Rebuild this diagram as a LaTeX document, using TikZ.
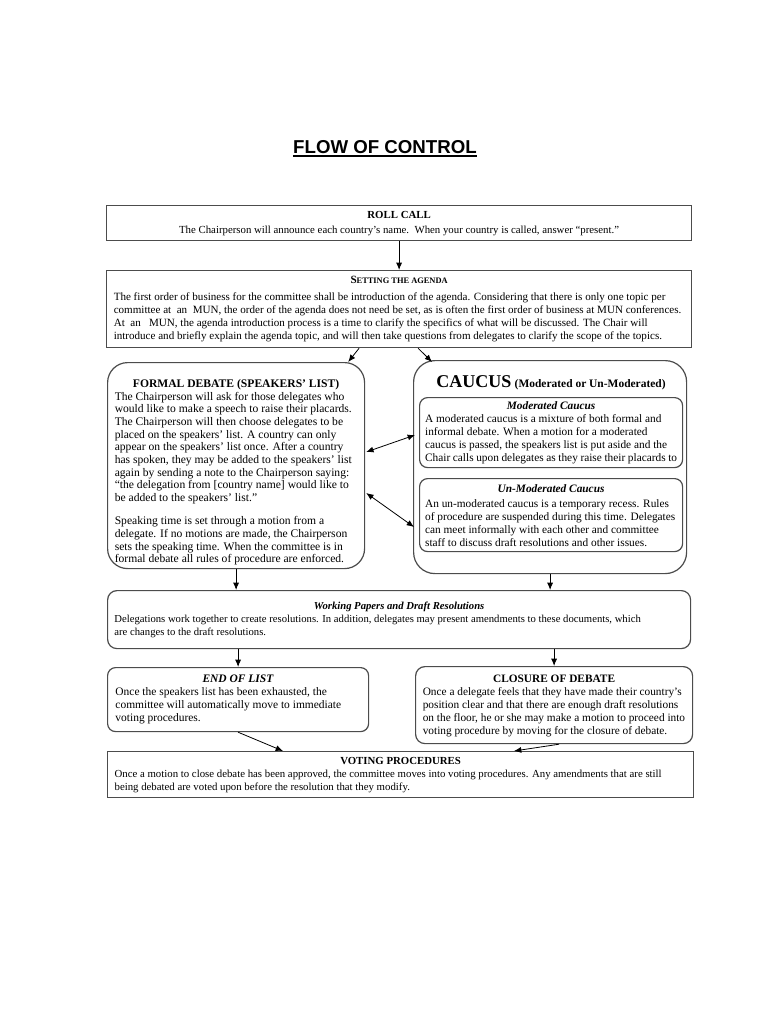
\documentclass[tikz,border=0pt]{standalone}
\usepackage{fontspec}
\setmainfont{Liberation Serif}
\newfontfamily\headfont{Liberation Sans}
\usetikzlibrary{arrows.meta,calc}

\newcommand\boxtext[3]{\parbox{#1}{\centering #2\par\raggedright #3}}

\tikzset{
	box/.style = {draw = black!70, line width = 0.9pt, inner sep = 0pt, anchor = north west, font = \fontsize{8.2}{9.75}\selectfont},
	rbox/.style = {box, rounded corners = #1},
	rbox/.default = 7pt,
	boxsize/.style 2 args = {minimum width = #1*0.75pt, minimum height = #2*0.75pt},
	flow/.style = {-{Latex[length = 5.5pt, width = 4.5pt]}, line width = 0.6pt},
	twoway/.style = {{Latex[length = 5.5pt, width = 4.5pt]}-{Latex[length = 5.5pt, width = 4.5pt]}, line width = 0.6pt}
}

\begin{document}
\begin{tikzpicture}[x = 0.75pt, y = -0.75pt]
	\useasboundingbox (0,0) rectangle (768,1024);
	\node [anchor = base, inner sep = 0pt] (title) at (385,153) {\headfont\bfseries\fontsize{14}{16}\selectfont FLOW OF CONTROL};
	\draw [line width = 1.2pt] ([yshift = -2.3pt]title.base west) -- ([yshift = -2.3pt]title.base east);
	\node [box, boxsize = {585}{35}, align = center, font = \fontsize{8.1}{9.75}\selectfont] (rollcall) at (106,205) {\textbf{ROLL CALL}\\[1.5pt]The Chairperson will announce each country’s name.\ \ When your country is called, answer “present.”};
	\node [box, boxsize = {585}{77}, font = \fontsize{8.3}{9.75}\selectfont] (agenda) at (106,270) {\boxtext{428pt}{\textbf{S{\fontsize{6.3}{7}\selectfont ETTING THE AGENDA}}}{\vspace{2.5pt}
	The first order of business for the committee shall be introduction of the agenda. Considering that there is only one topic per\\
	committee at\ \ an\ \ MUN, the order of the agenda does not need be set, as is often the first order of business at MUN conferences.\\
	At\ \ an\ \ \ MUN, the agenda introduction process is a time to clarify the specifics of what will be discussed. The Chair will\\
	introduce and briefly explain the agenda topic, and will then take questions from delegates to clarify the scope of the topics.}};
	\node [rbox = 15pt, boxsize = {257}{206}, font = \fontsize{8.7}{9.5}\selectfont] (formal) at (107,362) {\boxtext{182pt}{\vspace*{10pt}\textbf{FORMAL DEBATE (SPEAKERS’ LIST)}}{
	The Chairperson will ask for those delegates who\\
	would like to make a speech to raise their placards.\\
	The Chairperson will then choose delegates to be\\
	placed on the speakers’ list. A country can only\\
	appear on the speakers’ list once. After a country\\
	has spoken, they may be added to the speakers’ list\\
	again by sending a note to the Chairperson saying:\\
	“the delegation from [country name] would like to\\
	be added to the speakers’ list.”\\[8pt]
	Speaking time is set through a motion from a\\
	delegate. If no motions are made, the Chairperson\\
	sets the speaking time. When the committee is in\\
	formal debate all rules of procedure are enforced.}};
	\node [rbox = 16pt, boxsize = {273}{213}] (caucus) at (413,360) {};
	\node [anchor = base] (caucustitle) at (551,387) {\textbf{\fontsize{13.5}{15}\selectfont CAUCUS} \textbf{\fontsize{8.6}{10}\selectfont (Moderated or Un-Moderated)}};
	\node [rbox = 6pt, boxsize = {263}{70}, font = \fontsize{8.5}{9.75}\selectfont] (moderated) at (419,397) {\boxtext{189pt}{\vspace*{1pt}\textbf{\textit{Moderated Caucus}}}{
	A moderated caucus is a mixture of both formal and\\
	informal debate. When a motion for a moderated\\
	caucus is passed, the speakers list is put aside and the\\
	Chair calls upon delegates as they raise their placards to}};
	\node [rbox = 6pt, boxsize = {263}{73}, font = \fontsize{8.5}{9.75}\selectfont] (unmoderated) at (419,478) {\boxtext{189pt}{\vspace*{1pt}\textbf{\textit{Un-Moderated Caucus}}}{\vspace{2pt}
	An un-moderated caucus is a temporary recess. Rules\\
	of procedure are suspended during this time. Delegates\\
	can meet informally with each other and committee\\
	staff to discuss draft resolutions and other issues.}};
	\node [rbox, boxsize = {583}{58}, font = \fontsize{8.0}{9.75}\selectfont] (working) at (107,590) {\boxtext{427pt}{\textbf{\textit{Working Papers and Draft Resolutions}}}{
	Delegations work together to create resolutions. In addition, delegates may present amendments to these documents, which\\
	are changes to the draft resolutions.}};
	\node [rbox = 6pt, boxsize = {261}{64}, font = \fontsize{8.6}{9.75}\selectfont] (eol) at (107,667) {\boxtext{184pt}{\textbf{\textit{END OF LIST}}}{
	Once the speakers list has been exhausted, the\\
	committee will automatically move to immediate\\
	voting procedures.}};
	\node [rbox, boxsize = {277}{77}, font = \fontsize{8.5}{9.75}\selectfont] (closure) at (415,666) {\boxtext{197pt}{\vspace*{2pt}\textbf{CLOSURE OF DEBATE}}{
	Once a delegate feels that they have made their country’s\\
	position clear and that there are enough draft resolutions\\
	on the floor, he or she may make a motion to proceed into\\
	voting procedure by moving for the closure of debate.}};
	\node [box, boxsize = {586}{46}, font = \fontsize{8.1}{9.75}\selectfont] (voting) at (107,751) {\boxtext{429pt}{\textbf{VOTING PROCEDURES}}{
	Once a motion to close debate has been approved, the committee moves into voting procedures. Any amendments that are still\\
	being debated are voted upon before the resolution that they modify.}};
	\draw [flow] (rollcall) -- (agenda);
	\draw [flow] ($(agenda.south)+(-40,0)$) -- ($(formal.north east)+(-17,0)$);
	\draw [flow] ($(agenda.south)+(19,0)$) -- ($(caucus.north west)+(19,2)$);
	\draw [twoway] ($(formal.north east)+(1,90)$) -- ($(caucus.north west)+(2,75)$);
	\draw [twoway] ($(formal.north east)+(1,131)$) -- ($(caucus.north west)+(1,167)$);
	\foreach \a in {formal,caucus}{
	\draw [flow] (\a.south) -- (\a.south |- working.north);
	}
	\foreach \b in {eol,closure}{
	\draw [flow] (working.south -| \b.north) -- (\b.north);
	}
	\draw [flow] (eol.south) -- ($(voting.north west)+(176,0)$);
	\draw [flow] ($(closure.south)+(5,0)$) -- ($(voting.north west)+(407,0)$);
\end{tikzpicture}
\end{document}
